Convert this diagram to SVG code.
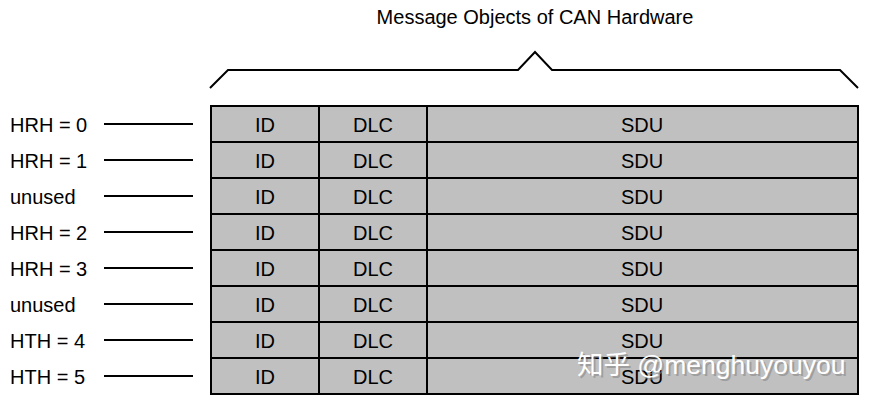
<svg xmlns="http://www.w3.org/2000/svg" width="869" height="404" viewBox="0 0 869 404">
<style>
text{font-family:"Liberation Sans",Arial,sans-serif;fill:#000}
.lbl{font-size:20px}
.cell{font-size:20px;text-anchor:middle}
.c{fill:#c0c0c0;stroke:#000;stroke-width:2}
.ln{stroke:#000;stroke-width:2;fill:none}
.wm{font-family:"Liberation Sans","Noto Sans CJK SC",sans-serif;font-size:26.5px;fill:#fff}
</style>
<rect width="869" height="404" fill="#fff"/>
<g id="title"><text x="535" y="24" text-anchor="middle" style="font-size:20px">Message Objects of CAN Hardware</text></g>
<g id="brace"><polyline class="ln" points="210,88 228,70 518,70 535,52 552,70 840,70 858,88"/></g>
<g id="connectors">
<line class="ln" x1="104" y1="124" x2="193" y2="124"/>
<line class="ln" x1="104" y1="160" x2="193" y2="160"/>
<line class="ln" x1="104" y1="196" x2="193" y2="196"/>
<line class="ln" x1="104" y1="232" x2="193" y2="232"/>
<line class="ln" x1="104" y1="268" x2="193" y2="268"/>
<line class="ln" x1="104" y1="304" x2="193" y2="304"/>
<line class="ln" x1="104" y1="340" x2="193" y2="340"/>
<line class="ln" x1="104" y1="376" x2="193" y2="376"/>
</g>
<g id="labels">
<text class="lbl" x="10" y="132">HRH = 0</text>
<text class="lbl" x="10" y="168">HRH = 1</text>
<text class="lbl" x="10" y="204">unused</text>
<text class="lbl" x="10" y="240">HRH = 2</text>
<text class="lbl" x="10" y="276">HRH = 3</text>
<text class="lbl" x="10" y="312">unused</text>
<text class="lbl" x="10" y="348">HTH = 4</text>
<text class="lbl" x="10" y="384">HTH = 5</text>
</g>
<g id="row0"><rect class="c" x="211" y="106" width="108" height="36"/><rect class="c" x="319" y="106" width="108" height="36"/><rect class="c" x="427" y="106" width="431" height="36"/><text class="cell" x="265" y="132">ID</text><text class="cell" x="373" y="132">DLC</text><text class="cell" x="642" y="132">SDU</text></g>
<g id="row1"><rect class="c" x="211" y="142" width="108" height="36"/><rect class="c" x="319" y="142" width="108" height="36"/><rect class="c" x="427" y="142" width="431" height="36"/><text class="cell" x="265" y="168">ID</text><text class="cell" x="373" y="168">DLC</text><text class="cell" x="642" y="168">SDU</text></g>
<g id="row2"><rect class="c" x="211" y="178" width="108" height="36"/><rect class="c" x="319" y="178" width="108" height="36"/><rect class="c" x="427" y="178" width="431" height="36"/><text class="cell" x="265" y="204">ID</text><text class="cell" x="373" y="204">DLC</text><text class="cell" x="642" y="204">SDU</text></g>
<g id="row3"><rect class="c" x="211" y="214" width="108" height="36"/><rect class="c" x="319" y="214" width="108" height="36"/><rect class="c" x="427" y="214" width="431" height="36"/><text class="cell" x="265" y="240">ID</text><text class="cell" x="373" y="240">DLC</text><text class="cell" x="642" y="240">SDU</text></g>
<g id="row4"><rect class="c" x="211" y="250" width="108" height="36"/><rect class="c" x="319" y="250" width="108" height="36"/><rect class="c" x="427" y="250" width="431" height="36"/><text class="cell" x="265" y="276">ID</text><text class="cell" x="373" y="276">DLC</text><text class="cell" x="642" y="276">SDU</text></g>
<g id="row5"><rect class="c" x="211" y="286" width="108" height="36"/><rect class="c" x="319" y="286" width="108" height="36"/><rect class="c" x="427" y="286" width="431" height="36"/><text class="cell" x="265" y="312">ID</text><text class="cell" x="373" y="312">DLC</text><text class="cell" x="642" y="312">SDU</text></g>
<g id="row6"><rect class="c" x="211" y="322" width="108" height="36"/><rect class="c" x="319" y="322" width="108" height="36"/><rect class="c" x="427" y="322" width="431" height="36"/><text class="cell" x="265" y="348">ID</text><text class="cell" x="373" y="348">DLC</text><text class="cell" x="642" y="348">SDU</text></g>
<g id="row7"><rect class="c" x="211" y="358" width="108" height="36"/><rect class="c" x="319" y="358" width="108" height="36"/><rect class="c" x="427" y="358" width="431" height="36"/><text class="cell" x="265" y="384">ID</text><text class="cell" x="373" y="384">DLC</text><text class="cell" x="642" y="384">SDU</text></g>
<g id="watermark">
<text class="wm" x="579" y="376" style="fill:#888;opacity:0.6">知乎 @menghuyouyou</text>
<text class="wm" x="577" y="374">知乎 @menghuyouyou</text>
</g>
</svg>
